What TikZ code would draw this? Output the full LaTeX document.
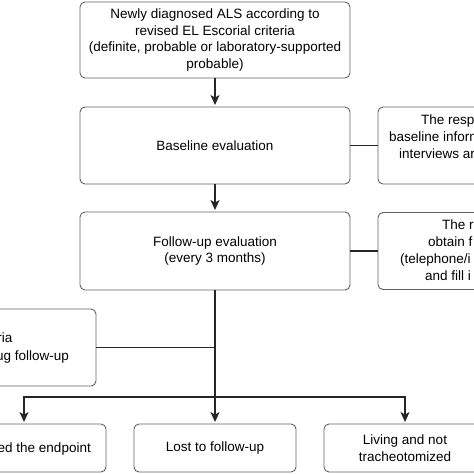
\documentclass[tikz,border=0pt]{standalone}
\usepackage{fontspec}
\setmainfont{Liberation Sans}
\usetikzlibrary{arrows.meta}
\begin{document}
\begin{tikzpicture}[x=1pt,y=-1pt,
  txt/.style={font=\fontsize{13.5}{16.5}\selectfont},
  box/.style={draw=black!62, line width=0.9pt, rounded corners=5pt, inner sep=0pt, align=center, txt},
  conn/.style={line width=1.3pt, draw=black!85},
  arr/.style={conn, -{Stealth[length=10pt,width=9pt,inset=2.5pt]}, shorten >=1.5pt},
  frag/.style={inner sep=0pt, txt}]
\useasboundingbox (0,0) rectangle (474,474);
\clip (0,0) rectangle (474,474);
% main column
\node[box, minimum width=270pt, minimum height=76pt] (top) at (215,40)
  {Newly diagnosed ALS according to\\revised EL Escorial criteria\\(definite, probable or laboratory-supported\\probable)};
\node[box, minimum width=270pt, minimum height=77pt] (base) at (215,145.5) {Baseline evaluation};
\node[box, minimum width=270pt, minimum height=78pt] (follow) at (215,251) {Follow-up evaluation\\(every 3 months)};
% side boxes
\node[box, minimum width=270pt, minimum height=77pt] (right1) at (513,145.5) {};
\node[box, minimum width=270pt, minimum height=77pt] (right2) at (513,251) {};
\node[box, minimum width=270pt, minimum height=77pt] (left) at (-39,347.5) {};
% bottom boxes
\node[box, minimum width=164pt, minimum height=48pt] (b1) at (24,448) {};
\node[box, minimum width=162pt, minimum height=48pt] (b2) at (215,448) {Lost to follow-up};
\node[box, minimum width=162pt, minimum height=48pt] (b3) at (405,448) {Living and not\\tracheotomized};
% visible text fragments of the cut-off boxes
\node[frag, anchor=base west] (r1a) at (421,124.5) {The resp};
\node[frag, anchor=base west] (r1b) at (389,141.5) {baseline inform};
\node[frag, anchor=base west] (r1c) at (399,158.5) {interviews ar};
\node[frag, anchor=base west] (r2a) at (442,229.5) {The re};
\node[frag, anchor=base west] (r2b) at (428,246.5) {obtain f};
\node[frag, anchor=base west] (r2c) at (400,263.5) {(telephone/i};
\node[frag, anchor=base west] (r2d) at (425,280.5) {and fill i};
\node[frag, anchor=base east] (la) at (12.5,342.5) {ria};
\node[frag, anchor=base east] (lb) at (69,360.5) {ug follow-up};
\node[frag, anchor=base east] (b1t) at (91,452.5) {ed the endpoint};
% connectors
\coordinate (j2) at (215,397);
\draw[arr] (top.south) -- (base.north);
\draw[arr] (base.south) -- (follow.north);
\draw[conn] (base.east) -- (right1.west);
\draw[conn] (follow.east) -- (right2.west);
\draw[arr] (follow.south) -- (b2.north);
\draw[conn] (left.east) -- (left.east -| follow.south);
\draw[arr] (j2) -| (b1.north);
\draw[arr] (j2) -| (b3.north);
\end{tikzpicture}
\end{document}
